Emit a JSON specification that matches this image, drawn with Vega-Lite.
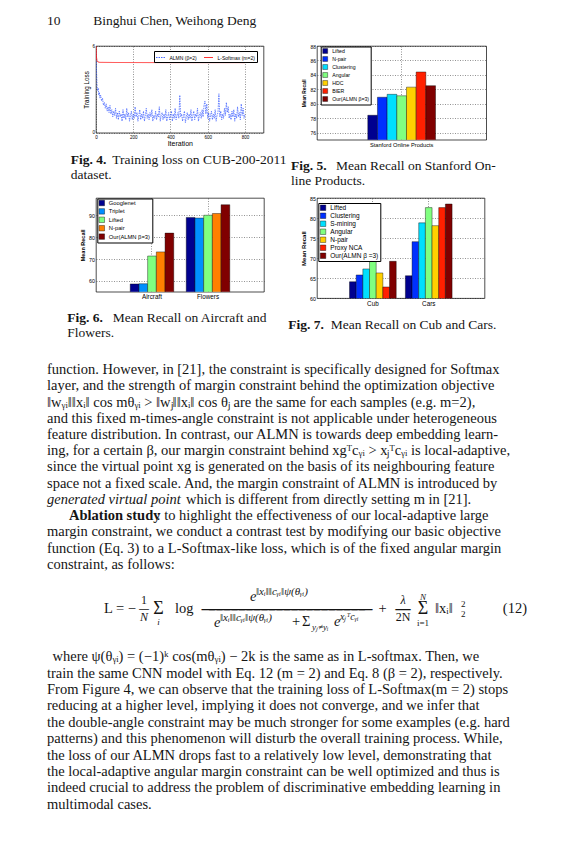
{
  "$schema": "https://vega.github.io/schema/vega-lite/v6.json",
  "background": "white",
  "padding": {"left": 47, "top": 0, "right": 0, "bottom": 0},
  "columns": 4,
  "align": "none",
  "bounds": "flush",
  "spacing": 0,
  "resolve": {"scale": {"color": "independent", "strokeDash": "independent", "xOffset": "independent"}, "legend": {"color": "independent", "strokeDash": "independent"}},
  "config": {
    "view": {"stroke": "black", "strokeWidth": 0.7},
    "axis": {
      "labelFont": "Liberation Sans", "titleFont": "Liberation Sans",
      "labelColor": "black", "titleColor": "black",
      "ticks": false, "domain": false, "labelOverlap": false,
      "gridColor": "black", "gridDash": [1, 1.5], "gridWidth": 0.5, "gridOpacity": 0.85,
      "labelPadding": 1.5, "titlePadding": 2, "labelFontSize": 5, "titleFontWeight": "normal"
    },
    "legend": {"labelFont": "Liberation Sans", "labelColor": "black", "strokeColor": "black", "fillColor": "white", "padding": 2},
    "text": {"font": "Liberation Serif", "fontSize": 14.5, "align": "left", "baseline": "middle", "color": "#151515"}
  },
  "datasets": {
    "almn": [
      {"it":0,"v":5.6},{"it":3,"v":4.2},{"it":6,"v":3.2},{"it":9,"v":2.9},{"it":12,"v":3.1},{"it":15,"v":2.6},{"it":18,"v":2.8},{"it":21,"v":2.4},{"it":25,"v":2.6},
      {"it":30,"v":2.2},{"it":35,"v":2.4},{"it":40,"v":1.9},{"it":45,"v":2.1},{"it":50,"v":1.7},{"it":55,"v":2.0},{"it":60,"v":1.5},{"it":65,"v":1.8},{"it":70,"v":1.4},
      {"it":75,"v":1.9},{"it":80,"v":1.3},{"it":85,"v":1.6},{"it":90,"v":1.1},{"it":95,"v":1.5},{"it":100,"v":1.2},{"it":105,"v":1.7},{"it":110,"v":1.0},{"it":115,"v":1.4},
      {"it":120,"v":0.9},{"it":125,"v":1.5},{"it":130,"v":1.1},{"it":135,"v":1.3},{"it":140,"v":0.8},{"it":145,"v":1.6},{"it":150,"v":1.0},{"it":155,"v":1.3},{"it":160,"v":0.9},
      {"it":165,"v":1.7},{"it":170,"v":1.1},{"it":175,"v":1.4},{"it":180,"v":0.8},{"it":185,"v":1.2},{"it":190,"v":1.5},{"it":195,"v":0.9},{"it":200,"v":1.3},{"it":205,"v":1.0},
      {"it":210,"v":1.8},{"it":215,"v":1.1},{"it":220,"v":1.4},{"it":225,"v":0.8},{"it":230,"v":1.2},{"it":235,"v":1.6},{"it":240,"v":0.9},{"it":245,"v":1.3},{"it":250,"v":1.0},
      {"it":255,"v":1.5},{"it":260,"v":0.8},{"it":265,"v":1.2},{"it":270,"v":1.7},{"it":275,"v":1.0},{"it":280,"v":1.3},{"it":285,"v":0.9},{"it":290,"v":1.4},{"it":295,"v":1.1},
      {"it":300,"v":1.6},{"it":305,"v":0.8},{"it":310,"v":1.2},{"it":315,"v":1.0},{"it":320,"v":1.5},{"it":325,"v":0.9},{"it":330,"v":1.3},{"it":335,"v":1.1},{"it":340,"v":1.8},
      {"it":345,"v":0.8},{"it":350,"v":1.2},{"it":355,"v":1.4},{"it":360,"v":0.9},{"it":365,"v":1.3},{"it":370,"v":1.0},{"it":375,"v":1.6},{"it":380,"v":0.8},{"it":385,"v":1.1},
      {"it":390,"v":1.4},{"it":395,"v":0.9},{"it":400,"v":1.2},{"it":405,"v":1.5},{"it":410,"v":0.8},{"it":415,"v":1.3},{"it":420,"v":1.0},{"it":425,"v":1.7},{"it":430,"v":0.9},
      {"it":435,"v":1.2},{"it":440,"v":1.4},{"it":445,"v":1.0},{"it":450,"v":2.6},{"it":455,"v":1.1},{"it":460,"v":1.3},{"it":465,"v":0.8},{"it":470,"v":1.2},{"it":475,"v":1.5},
      {"it":480,"v":0.7},{"it":485,"v":1.1},{"it":490,"v":1.4},{"it":495,"v":0.9},{"it":500,"v":1.3},{"it":505,"v":1.0},{"it":510,"v":1.6},{"it":515,"v":0.8},{"it":520,"v":1.2},
      {"it":525,"v":1.5},{"it":530,"v":0.9},{"it":535,"v":1.3},{"it":540,"v":1.1},{"it":545,"v":1.7},{"it":550,"v":0.8},{"it":555,"v":1.2},{"it":560,"v":1.4},{"it":565,"v":1.0},
      {"it":570,"v":1.6},{"it":575,"v":1.1},{"it":580,"v":1.9},{"it":585,"v":2.2},{"it":590,"v":1.3},{"it":595,"v":2.0},{"it":600,"v":1.0},{"it":605,"v":1.4},{"it":610,"v":0.8},
      {"it":615,"v":1.2},{"it":620,"v":1.5},{"it":625,"v":0.9},{"it":630,"v":1.3},{"it":635,"v":1.0},{"it":640,"v":1.6},{"it":645,"v":0.8},{"it":650,"v":1.2},{"it":655,"v":1.4},
      {"it":660,"v":2.7},{"it":665,"v":1.1},{"it":670,"v":1.5},{"it":675,"v":0.9},{"it":680,"v":1.3},{"it":685,"v":1.0},{"it":690,"v":1.7},{"it":695,"v":1.2},{"it":700,"v":2.1},
      {"it":705,"v":1.4},{"it":710,"v":1.8},{"it":715,"v":1.0},{"it":720,"v":1.3},{"it":725,"v":0.9},{"it":730,"v":1.5},{"it":735,"v":1.1},{"it":740,"v":1.6},{"it":745,"v":0.8},
      {"it":750,"v":1.3},{"it":755,"v":1.0},{"it":760,"v":1.8},{"it":765,"v":1.1},{"it":770,"v":1.4},{"it":775,"v":0.9},{"it":780,"v":2.0},{"it":785,"v":1.2},{"it":790,"v":1.7},
      {"it":795,"v":1.0},{"it":800,"v":1.3}
    ],
    "lsoft": [
      {"it":0,"v":6.0},{"it":2,"v":5.3},{"it":5,"v":5.0},{"it":10,"v":4.9},{"it":20,"v":4.87},{"it":100,"v":4.86},{"it":400,"v":4.85},{"it":800,"v":4.85}
    ],
    "sop": [
      {"d":"Stanford Online Products","m":"Lifted","v":78.4},
      {"d":"Stanford Online Products","m":"N-pair","v":80.9},
      {"d":"Stanford Online Products","m":"Clustering","v":81.3},
      {"d":"Stanford Online Products","m":"Angular","v":81.1},
      {"d":"Stanford Online Products","m":"HDC","v":82.3},
      {"d":"Stanford Online Products","m":"BIER","v":84.4},
      {"d":"Stanford Online Products","m":"Our(ALMN β=3)","v":82.5}
    ],
    "af": [
      {"d":"Aircraft","m":"Googlenet","v":58.6},{"d":"Aircraft","m":"Triplet","v":58.7},{"d":"Aircraft","m":"Lifted","v":71.4},{"d":"Aircraft","m":"N-pair","v":73.3},{"d":"Aircraft","m":"Our(ALMN β=3)","v":81.9},
      {"d":"Flowers","m":"Googlenet","v":89.1},{"d":"Flowers","m":"Triplet","v":88.8},{"d":"Flowers","m":"Lifted","v":90.1},{"d":"Flowers","m":"N-pair","v":90.9},{"d":"Flowers","m":"Our(ALMN β=3)","v":94.9}
    ],
    "cc": [
      {"d":"Cub","m":"Lifted","v":64.1},{"d":"Cub","m":"Clustering","v":65.8},{"d":"Cub","m":"S-mining","v":67.3},{"d":"Cub","m":"Angular","v":69.3},{"d":"Cub","m":"N-pair","v":66.3},{"d":"Cub","m":"Proxy NCA","v":62.8},{"d":"Cub","m":"Our(ALMN β =3)","v":69.2},
      {"d":"Cars","m":"Lifted","v":65.6},{"d":"Cars","m":"Clustering","v":74.1},{"d":"Cars","m":"S-mining","v":78.8},{"d":"Cars","m":"Angular","v":82.6},{"d":"Cars","m":"N-pair","v":78.1},{"d":"Cars","m":"Proxy NCA","v":82.6},{"d":"Cars","m":"Our(ALMN β =3)","v":83.5}
    ]
  },
  "concat": [
    {
      "width": 49, "height": 45.5, "view": {"stroke": null},
      "data": {"values": [{"line":1,"s":"pg","text":"10"},{"line":1,"s":"hd","text":"Binghui Chen, Weihong Deng"}]},
      "encoding": {
        "x": {"value": 0},
        "y": {"field": "line", "type": "quantitative", "scale": {"domain": [0, 2.198], "reverse": true, "nice": false, "zero": false}, "axis": null},
        "text": {"field": "text"}
      },
      "layer": [
        {"transform": [{"filter": "datum.s == 'pg'"}], "mark": {"type": "text", "fontSize": 13.5}},
        {"transform": [{"filter": "datum.s == 'hd'"}], "mark": {"type": "text", "fontSize": 13.5, "dx": 46.3}}
      ]
    },
    {"width": 168, "height": 1, "view": {"stroke": null}, "data": {"values": []}, "mark": "point"},
    {"width": 53, "height": 1, "view": {"stroke": null}, "data": {"values": []}, "mark": "point"},
    {"width": 169.3, "height": 1, "view": {"stroke": null}, "data": {"values": []}, "mark": "point"},

    {"width": 49, "height": 1, "view": {"stroke": null}, "data": {"values": []}, "mark": "point"},
    {
      "width": 167.6, "height": 86.8,
      "layer": [
        {
          "data": {"name": "almn"},
          "mark": {"type": "line", "strokeWidth": 0.7, "clip": true},
          "encoding": {
            "x": {"field": "it", "type": "quantitative", "scale": {"domain": [0, 900], "nice": false},
                  "axis": {"values": [0,100,200,300,400,500,600,700,800,900], "labelOverlap": false, "labelFlush": false, "labelBound": false, "title": "Iteration", "titleFontSize": 7, "labelFontSize": 4.5, "titlePadding": 1, "labelPadding": 1.5}},
            "y": {"field": "v", "type": "quantitative", "scale": {"domain": [0, 6], "nice": false},
                  "axis": {"values": [0,1,2,3,4,5,6], "labelOverlap": false, "labelFlush": false, "title": "Training Loss", "titleFontSize": 6.3, "labelFontSize": 4.5, "titlePadding": 2}},
            "color": {"datum": "ALMN (β=2)", "type": "nominal",
                      "scale": {"domain": ["ALMN (β=2)", "L-Softmax (m=2)"], "range": ["#3358ff", "#ff1a1a"]},
                      "legend": {"title": null, "orient": "none", "legendX": 58, "legendY": 5, "direction": "horizontal", "symbolType": "stroke", "symbolSize": 80, "symbolStrokeWidth": 0.9, "labelFontSize": 5, "columnPadding": 4, "padding": 1.5}},
            "strokeDash": {"datum": "ALMN (β=2)", "type": "nominal",
                           "scale": {"domain": ["ALMN (β=2)", "L-Softmax (m=2)"], "range": [[1.5, 1], [1, 0]]},
                           "legend": {"title": null, "orient": "none", "legendX": 58, "legendY": 5, "direction": "horizontal", "symbolType": "stroke", "symbolSize": 80, "symbolStrokeWidth": 0.9, "labelFontSize": 5, "columnPadding": 4, "padding": 1.5}}
          }
        },
        {
          "data": {"name": "lsoft"},
          "mark": {"type": "line", "strokeWidth": 0.9, "clip": true},
          "encoding": {
            "x": {"field": "it", "type": "quantitative"},
            "y": {"field": "v", "type": "quantitative"},
            "color": {"datum": "L-Softmax (m=2)", "type": "nominal"},
            "strokeDash": {"datum": "L-Softmax (m=2)", "type": "nominal"}
          }
        }
      ]
    },
    {"width": 53, "height": 1, "view": {"stroke": null}, "data": {"values": []}, "mark": "point"},
    {
      "width": 169.3, "height": 93.8,
      "data": {"name": "sop"},
      "mark": {"type": "bar", "clip": true, "stroke": "black", "strokeWidth": 0.4},
      "encoding": {
        "x": {"field": "d", "type": "nominal", "scale": {"paddingInner": 0, "paddingOuter": 0.75},
              "axis": {"title": null, "labelAngle": 0, "grid": true, "labelFontSize": 5.7, "labelPadding": 2}},
        "xOffset": {"field": "m", "type": "nominal", "scale": {"domain": ["Lifted", "N-pair", "Clustering", "Angular", "HDC", "BIER", "Our(ALMN β=3)"]}},
        "y": {"field": "v", "type": "quantitative", "scale": {"domain": [75, 88], "nice": false, "zero": false},
              "axis": {"values": [76, 78, 80, 82, 84, 86, 88], "title": "Mean Recall", "titleFontWeight": "bold", "titleFontSize": 4.8, "labelFontSize": 5, "titlePadding": 3}},
        "color": {"field": "m", "type": "nominal",
                  "scale": {"domain": ["Lifted", "N-pair", "Clustering", "Angular", "HDC", "BIER", "Our(ALMN β=3)"], "range": ["#00008f", "#0030ff", "#00dfff", "#80ff80", "#ffd000", "#ff2000", "#800000"]},
                  "legend": {"title": null, "orient": "none", "legendX": 3.7, "legendY": 0.5, "symbolType": "square", "symbolSize": 24, "symbolStrokeColor": "black", "symbolStrokeWidth": 0.4, "labelFontSize": 5.2, "rowPadding": 0, "padding": 1.5}}
      }
    },

    {"width": 49, "height": 1, "view": {"stroke": null}, "data": {"values": []}, "mark": "point"},
    {
      "width": 168, "height": 57.7, "view": {"stroke": null},
      "data": {"values": [{"line":1,"s":"b","text":"Fig. 4."},{"line":1,"s":"r1","text":"Training loss on CUB-200-2011"},{"line":2,"s":"r2","text":"dataset."}]},
      "encoding": {
        "x": {"value": 0},
        "y": {"field": "line", "type": "quantitative", "scale": {"domain": [-0.333, 3.514], "reverse": true, "nice": false, "zero": false}, "axis": null},
        "text": {"field": "text"}
      },
      "layer": [
        {"transform": [{"filter": "datum.s == 'b'"}], "mark": {"type": "text", "fontSize": 13.5, "fontWeight": "bold", "dx": -25.3}},
        {"transform": [{"filter": "datum.s == 'r1'"}], "mark": {"type": "text", "fontSize": 13.5, "dx": 16.3}},
        {"transform": [{"filter": "datum.s == 'r2'"}], "mark": {"type": "text", "fontSize": 13.5, "dx": -25.3}}
      ]
    },
    {"width": 53, "height": 1, "view": {"stroke": null}, "data": {"values": []}, "mark": "point"},
    {
      "width": 168, "height": 57.7, "view": {"stroke": null},
      "data": {"values": [{"line":1,"s":"b","text":"Fig. 5."},{"line":1,"s":"r1","text":"Mean Recall on Stanford On-"},{"line":2,"s":"r2","text":"line Products."}]},
      "encoding": {
        "x": {"value": 0},
        "y": {"field": "line", "type": "quantitative", "scale": {"domain": [-0.637, 3.038], "reverse": true, "nice": false, "zero": false}, "axis": null},
        "text": {"field": "text"}
      },
      "layer": [
        {"transform": [{"filter": "datum.s == 'b'"}], "mark": {"type": "text", "fontSize": 13.5, "fontWeight": "bold", "dx": -26}},
        {"transform": [{"filter": "datum.s == 'r1'"}], "mark": {"type": "text", "fontSize": 13.5, "dx": 19}},
        {"transform": [{"filter": "datum.s == 'r2'"}], "mark": {"type": "text", "fontSize": 13.5, "dx": -26}}
      ]
    },

    {"width": 49, "height": 1, "view": {"stroke": null}, "data": {"values": []}, "mark": "point"},
    {
      "width": 168, "height": 93.8,
      "data": {"name": "af"},
      "mark": {"type": "bar", "clip": true, "stroke": "black", "strokeWidth": 0.4},
      "encoding": {
        "x": {"field": "d", "type": "nominal", "scale": {"domain": ["Aircraft", "Flowers"], "paddingInner": 0.223, "paddingOuter": 0.611},
              "axis": {"title": null, "labelAngle": 0, "grid": true, "labelFontSize": 6.3, "labelPadding": 2}},
        "xOffset": {"field": "m", "type": "nominal", "scale": {"domain": ["Googlenet", "Triplet", "Lifted", "N-pair", "Our(ALMN β=3)"]}},
        "y": {"field": "v", "type": "quantitative", "scale": {"domain": [55, 98], "nice": false, "zero": false},
              "axis": {"values": [60, 70, 80, 90], "title": "Mean Recall", "titleFontWeight": "bold", "titleFontSize": 5.5, "labelFontSize": 5.3, "titlePadding": 3}},
        "color": {"field": "m", "type": "nominal",
                  "scale": {"domain": ["Googlenet", "Triplet", "Lifted", "N-pair", "Our(ALMN β=3)"], "range": ["#00008f", "#008fff", "#80ff80", "#ff8000", "#800000"]},
                  "legend": {"title": null, "orient": "none", "legendX": 1.3, "legendY": 0.5, "symbolType": "square", "symbolSize": 30, "symbolStrokeColor": "black", "symbolStrokeWidth": 0.4, "labelFontSize": 5.8, "rowPadding": 0.4, "padding": 1.5}}
      }
    },
    {"width": 53, "height": 1, "view": {"stroke": null}, "data": {"values": []}, "mark": "point"},
    {
      "width": 167.6, "height": 100.2,
      "data": {"name": "cc"},
      "mark": {"type": "bar", "clip": true, "stroke": "black", "strokeWidth": 0.4},
      "encoding": {
        "x": {"field": "d", "type": "nominal", "scale": {"domain": ["Cub", "Cars"], "paddingInner": 0.164, "paddingOuter": 0.582},
              "axis": {"title": null, "labelAngle": 0, "grid": true, "labelFontSize": 6.3, "labelPadding": 2}},
        "xOffset": {"field": "m", "type": "nominal", "scale": {"domain": ["Lifted", "Clustering", "S-mining", "Angular", "N-pair", "Proxy NCA", "Our(ALMN β =3)"]}},
        "y": {"field": "v", "type": "quantitative", "scale": {"domain": [60, 85], "nice": false, "zero": false},
              "axis": {"values": [60, 65, 70, 75, 80, 85], "title": "Mean Recall", "titleFontWeight": "bold", "titleFontSize": 6, "labelFontSize": 5.3, "titlePadding": 3}},
        "color": {"field": "m", "type": "nominal",
                  "scale": {"domain": ["Lifted", "Clustering", "S-mining", "Angular", "N-pair", "Proxy NCA", "Our(ALMN β =3)"], "range": ["#00008f", "#0030ff", "#00dfff", "#80ff80", "#ffd000", "#ff2000", "#800000"]},
                  "legend": {"title": null, "orient": "none", "legendX": 1.3, "legendY": 5, "symbolType": "square", "symbolSize": 30, "symbolStrokeColor": "black", "symbolStrokeWidth": 0.4, "labelFontSize": 6.5, "rowPadding": 0, "padding": 1.5}}
      }
    },

    {"width": 49, "height": 1, "view": {"stroke": null}, "data": {"values": []}, "mark": "point"},
    {
      "width": 168, "height": 62.4, "view": {"stroke": null},
      "data": {"values": [{"line":1,"s":"b","text":"Fig. 6."},{"line":1,"s":"r1","text":"Mean Recall on Aircraft and"},{"line":2,"s":"r2","text":"Flowers."}]},
      "encoding": {
        "x": {"value": 0},
        "y": {"field": "line", "type": "quantitative", "scale": {"domain": [-0.253, 3.907], "reverse": true, "nice": false, "zero": false}, "axis": null},
        "text": {"field": "text"}
      },
      "layer": [
        {"transform": [{"filter": "datum.s == 'b'"}], "mark": {"type": "text", "fontSize": 13.5, "fontWeight": "bold", "dx": -28.7}},
        {"transform": [{"filter": "datum.s == 'r1'"}], "mark": {"type": "text", "fontSize": 13.5, "dx": 16.7}},
        {"transform": [{"filter": "datum.s == 'r2'"}], "mark": {"type": "text", "fontSize": 13.5, "dx": -28.7}}
      ]
    },
    {"width": 53, "height": 1, "view": {"stroke": null}, "data": {"values": []}, "mark": "point"},
    {
      "width": 168, "height": 62.4, "view": {"stroke": null},
      "data": {"values": [{"line":1,"s":"b","text":"Fig. 7."},{"line":1,"s":"r1","text":"Mean Recall on Cub and Cars."}]},
      "encoding": {
        "x": {"value": 0},
        "y": {"field": "line", "type": "quantitative", "scale": {"domain": [-0.7, 3.46], "reverse": true, "nice": false, "zero": false}, "axis": null},
        "text": {"field": "text"}
      },
      "layer": [
        {"transform": [{"filter": "datum.s == 'b'"}], "mark": {"type": "text", "fontSize": 13.5, "fontWeight": "bold", "dx": -28.7}},
        {"transform": [{"filter": "datum.s == 'r1'"}], "mark": {"type": "text", "fontSize": 13.5, "dx": 13.7}}
      ]
    },

    {
      "width": 49, "height": 210.9, "view": {"stroke": null},
      "data": {"values": [
        {"line":1,"s":"r","text":"function. However, in [21], the constraint is specifically designed for Softmax"},
        {"line":2,"s":"r","text":"layer, and the strength of margin constraint behind the optimization objective"},
        {"line":3,"s":"r","text":"‖wᵧᵢ‖‖xᵢ‖ cos mθᵧᵢ > ‖wⱼ‖‖xᵢ‖ cos θⱼ are the same for each samples (e.g. m=2),"},
        {"line":4,"s":"r","text":"and this fixed m-times-angle constraint is not applicable under heterogeneous"},
        {"line":5,"s":"r","text":"feature distribution. In contrast, our ALMN is towards deep embedding learn-"},
        {"line":6,"s":"r","text":"ing, for a certain β, our margin constraint behind xgᵀcᵧᵢ > xⱼᵀcᵧᵢ is local-adaptive,"},
        {"line":7,"s":"r","text":"since the virtual point xg is generated on the basis of its neighbouring feature"},
        {"line":8,"s":"r","text":"space not a fixed scale. And, the margin constraint of ALMN is introduced by"},
        {"line":9,"s":"i","text":"generated virtual point"},
        {"line":9,"s":"ri","text":"which is different from directly setting m in [21]."},
        {"line":10,"s":"b","text":"Ablation study"},
        {"line":10,"s":"rb","text":": to highlight the effectiveness of our local-adaptive large"},
        {"line":11,"s":"r","text":"margin constraint, we conduct a contrast test by modifying our basic objective"},
        {"line":12,"s":"r","text":"function (Eq. 3) to a L-Softmax-like loss, which is of the fixed angular margin"},
        {"line":13,"s":"r","text":"constraint, as follows:"}
      ]},
      "encoding": {
        "x": {"value": 0},
        "y": {"field": "line", "type": "quantitative", "scale": {"domain": [0.5, 13.5], "reverse": true, "nice": false, "zero": false}, "axis": null},
        "text": {"field": "text"}
      },
      "layer": [
        {"transform": [{"filter": "datum.s == 'r'"}], "mark": {"type": "text"}},
        {"transform": [{"filter": "datum.s == 'i'"}], "mark": {"type": "text", "fontStyle": "italic"}},
        {"transform": [{"filter": "datum.s == 'ri'"}], "mark": {"type": "text", "dx": 139}},
        {"transform": [{"filter": "datum.s == 'b'"}], "mark": {"type": "text", "fontWeight": "bold", "dx": 22}},
        {"transform": [{"filter": "datum.s == 'rb'"}], "mark": {"type": "text", "dx": 109.5}}
      ]
    },
    {"width": 1, "height": 1, "view": {"stroke": null}, "data": {"values": []}, "mark": "point"},
    {"width": 1, "height": 1, "view": {"stroke": null}, "data": {"values": []}, "mark": "point"},
    {"width": 1, "height": 1, "view": {"stroke": null}, "data": {"values": []}, "mark": "point"},

    {
      "width": 49, "height": 75.3, "view": {"stroke": null},
      "data": {"values": [
        {"p":"L","row":2,"text":"L = −"},
        {"p":"f1n","row":2,"text":"1"},
        {"p":"f1b","row":2,"text":"—"},
        {"p":"f1d","row":2,"text":"N"},
        {"p":"s1","row":2,"text":"Σ"},
        {"p":"s1i","row":3,"text":"i"},
        {"p":"log","row":2,"text":"log"},
        {"p":"bar","row":2,"text":"———————————"},
        {"p":"ne","row":1,"text":"e"},
        {"p":"nexp","row":1,"text":"‖xᵢ‖‖cᵧᵢ‖ψ(θᵧᵢ)"},
        {"p":"de","row":3,"text":"e"},
        {"p":"dexp","row":3,"text":"‖xᵢ‖‖cᵧᵢ‖ψ(θᵧᵢ)"},
        {"p":"dplus","row":3,"text":"+"},
        {"p":"ds","row":3,"text":"Σ"},
        {"p":"dsub","row":3,"text":"yⱼ≠yᵢ"},
        {"p":"de2","row":3,"text":"e"},
        {"p":"dexp2","row":3,"text":"xⱼᵀcᵧᵢ"},
        {"p":"plus","row":2,"text":"+"},
        {"p":"f2n","row":2,"text":"λ"},
        {"p":"f2b","row":2,"text":"—"},
        {"p":"f2d","row":2,"text":"2N"},
        {"p":"s2N","row":1,"text":"N"},
        {"p":"s2","row":2,"text":"Σ"},
        {"p":"s2i","row":3,"text":"i=1"},
        {"p":"norm","row":2,"text":"‖xᵢ‖"},
        {"p":"sup","row":2,"text":"2"},
        {"p":"sub","row":2,"text":"2"},
        {"p":"num","row":2,"text":"(12)"}
      ]},
      "encoding": {
        "x": {"value": 0},
        "y": {"field": "row", "type": "quantitative", "scale": {"domain": [-0.731, 5.061], "reverse": true, "nice": false, "zero": false}, "axis": null},
        "text": {"field": "text"}
      },
      "layer": [
        {"transform": [{"filter": "datum.p == 'L'"}], "mark": {"type": "text", "dx": 57}},
        {"transform": [{"filter": "datum.p == 'f1n'"}], "mark": {"type": "text", "align": "center", "fontSize": 12, "dx": 97, "dy": -8.5}},
        {"transform": [{"filter": "datum.p == 'f1b'"}], "mark": {"type": "text", "align": "center", "font": "DejaVu Sans", "fontSize": 11, "dx": 97}},
        {"transform": [{"filter": "datum.p == 'f1d'"}], "mark": {"type": "text", "align": "center", "fontSize": 12, "fontStyle": "italic", "dx": 97, "dy": 8.5}},
        {"transform": [{"filter": "datum.p == 's1'"}], "mark": {"type": "text", "align": "center", "fontSize": 18, "dx": 111.5}},
        {"transform": [{"filter": "datum.p == 's1i'"}], "mark": {"type": "text", "align": "center", "fontSize": 9, "fontStyle": "italic", "dx": 111.5}},
        {"transform": [{"filter": "datum.p == 'log'"}], "mark": {"type": "text", "dx": 128}},
        {"transform": [{"filter": "datum.p == 'bar'"}], "mark": {"type": "text", "align": "center", "font": "DejaVu Sans", "fontSize": 15, "dx": 236.25}},
        {"transform": [{"filter": "datum.p == 'bar'"}], "mark": {"type": "text", "align": "center", "font": "DejaVu Sans", "fontSize": 15, "dx": 243.75}},
        {"transform": [{"filter": "datum.p == 'ne'"}], "mark": {"type": "text", "fontStyle": "italic", "dx": 203, "dy": 1}},
        {"transform": [{"filter": "datum.p == 'nexp'"}], "mark": {"type": "text", "fontSize": 11, "fontStyle": "italic", "dx": 209, "dy": -4}},
        {"transform": [{"filter": "datum.p == 'de'"}], "mark": {"type": "text", "fontStyle": "italic", "dx": 167, "dy": 1}},
        {"transform": [{"filter": "datum.p == 'dexp'"}], "mark": {"type": "text", "fontSize": 11, "fontStyle": "italic", "dx": 173, "dy": -4}},
        {"transform": [{"filter": "datum.p == 'dplus'"}], "mark": {"type": "text", "dx": 245}},
        {"transform": [{"filter": "datum.p == 'ds'"}], "mark": {"type": "text", "dx": 255}},
        {"transform": [{"filter": "datum.p == 'dsub'"}], "mark": {"type": "text", "fontSize": 9, "fontStyle": "italic", "dx": 265, "dy": 5}},
        {"transform": [{"filter": "datum.p == 'de2'"}], "mark": {"type": "text", "fontStyle": "italic", "dx": 287}},
        {"transform": [{"filter": "datum.p == 'dexp2'"}], "mark": {"type": "text", "fontSize": 10, "fontStyle": "italic", "dx": 293, "dy": -5}},
        {"transform": [{"filter": "datum.p == 'plus'"}], "mark": {"type": "text", "align": "center", "dx": 335.7}},
        {"transform": [{"filter": "datum.p == 'f2n'"}], "mark": {"type": "text", "align": "center", "fontSize": 12, "fontStyle": "italic", "dx": 356, "dy": -8.5}},
        {"transform": [{"filter": "datum.p == 'f2b'"}], "mark": {"type": "text", "align": "center", "font": "DejaVu Sans", "fontSize": 17, "dx": 356}},
        {"transform": [{"filter": "datum.p == 'f2d'"}], "mark": {"type": "text", "align": "center", "fontSize": 12, "dx": 356, "dy": 8.5}},
        {"transform": [{"filter": "datum.p == 's2N'"}], "mark": {"type": "text", "align": "center", "fontSize": 9, "fontStyle": "italic", "dx": 376, "dy": 1}},
        {"transform": [{"filter": "datum.p == 's2'"}], "mark": {"type": "text", "align": "center", "fontSize": 18, "dx": 376}},
        {"transform": [{"filter": "datum.p == 's2i'"}], "mark": {"type": "text", "align": "center", "fontSize": 9, "dx": 376, "dy": 1}},
        {"transform": [{"filter": "datum.p == 'norm'"}], "mark": {"type": "text", "dx": 388}},
        {"transform": [{"filter": "datum.p == 'sup'"}], "mark": {"type": "text", "fontSize": 9, "dx": 414, "dy": -5}},
        {"transform": [{"filter": "datum.p == 'sub'"}], "mark": {"type": "text", "fontSize": 9, "dx": 414, "dy": 5}},
        {"transform": [{"filter": "datum.p == 'num'"}], "mark": {"type": "text", "align": "right", "dx": 480}}
      ]
    },
    {"width": 1, "height": 1, "view": {"stroke": null}, "data": {"values": []}, "mark": "point"},
    {"width": 1, "height": 1, "view": {"stroke": null}, "data": {"values": []}, "mark": "point"},
    {"width": 1, "height": 1, "view": {"stroke": null}, "data": {"values": []}, "mark": "point"},

    {
      "width": 49, "height": 164, "view": {"stroke": null},
      "data": {"values": [
        {"line":1,"s":"ind","text":"where ψ(θᵧᵢ) = (−1)ᵏ cos(mθᵧᵢ) − 2k is the same as in L-softmax. Then, we"},
        {"line":2,"s":"r","text":"train the same CNN model with Eq. 12 (m = 2) and Eq. 8 (β = 2), respectively."},
        {"line":3,"s":"r","text":"From Figure 4, we can observe that the training loss of L-Softmax(m = 2) stops"},
        {"line":4,"s":"r","text":"reducing at a higher level, implying it does not converge, and we infer that"},
        {"line":5,"s":"r","text":"the double-angle constraint may be much stronger for some examples (e.g. hard"},
        {"line":6,"s":"r","text":"patterns) and this phenomenon will disturb the overall training process. While,"},
        {"line":7,"s":"r","text":"the loss of our ALMN drops fast to a relatively low level, demonstrating that"},
        {"line":8,"s":"r","text":"the local-adaptive angular margin constraint can be well optimized and thus is"},
        {"line":9,"s":"r","text":"indeed crucial to address the problem of discriminative embedding learning in"},
        {"line":10,"s":"r","text":"multimodal cases."}
      ]},
      "encoding": {
        "x": {"value": 0},
        "y": {"field": "line", "type": "quantitative", "scale": {"domain": [0.5, 10.5], "reverse": true, "nice": false, "zero": false}, "axis": null},
        "text": {"field": "text"}
      },
      "layer": [
        {"transform": [{"filter": "datum.s == 'r'"}], "mark": {"type": "text"}},
        {"transform": [{"filter": "datum.s == 'ind'"}], "mark": {"type": "text", "dx": 5.5}}
      ]
    }
  ]
}
